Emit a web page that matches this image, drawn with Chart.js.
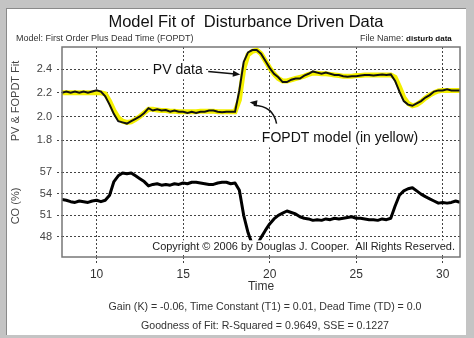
<!DOCTYPE html>
<html>
<head>
<meta charset="utf-8">
<script src="https://cdn.jsdelivr.net/npm/chart.js@4"></script>
<style>
  body { margin: 0; background: #c4c4c4; }
  #wrap { position: relative; width: 474px; height: 338px; overflow: hidden;
          font-family: "Liberation Sans", Arial, sans-serif; color: #222; }
  #panel { position: absolute; left: 6px; top: 8px; width: 459px; height: 326px;
           background: #fff; border-left: 1px solid #8a8a8a; border-top: 1px solid #8a8a8a; }
  canvas { position: absolute; left: 0; top: 0; }
  .t { position: absolute; white-space: nowrap; }
  .c { text-align: center; left: 0; }
</style>
</head>
<body>
<div id="wrap">
  <div id="panel"></div>
  <canvas id="fitChart" width="474" height="338"></canvas>
  <div class="t c" style="width:492px; top:11px; font-size:16.5px; line-height:20px; color:#111;">Model Fit of&nbsp; Disturbance Driven Data</div>
  <div class="t" style="left:16px; top:32px; font-size:9px; line-height:12px; color:#333;">Model: First Order Plus Dead Time (FOPDT)</div>
  <div class="t" style="left:360px; top:32px; font-size:9px; line-height:12px; color:#333;">File Name: <span style="font-size:8px; font-weight:bold; color:#111;">disturb data</span></div>
  <div class="t c" style="width:530px; top:299px; font-size:10.6px; line-height:14px; color:#333;">Gain (K) = -0.06, Time Constant (T1) = 0.01, Dead Time (TD) = 0.0</div>
  <div class="t c" style="width:530px; top:318px; font-size:10.6px; line-height:14px; color:#333;">Goodness of Fit: R-Squared = 0.9649, SSE = 0.1227</div>
</div>
<script>
// sample times
const times = [
  8, 8.25, 8.5, 8.75, 9, 9.25, 9.5, 9.75,
  10, 10.25, 10.5, 10.75, 11, 11.25, 11.5, 11.75,
  12, 12.25, 12.5, 12.75, 13, 13.25, 13.5, 13.75,
  14, 14.25, 14.5, 14.75, 15, 15.25, 15.5, 15.75,
  16, 16.25, 16.5, 16.75, 17, 17.25, 17.5, 17.75,
  18, 18.25, 18.5, 18.75, 19, 19.25, 19.5, 19.75,
  20, 20.25, 20.5, 20.75, 21, 21.25, 21.5, 21.75,
  22, 22.25, 22.5, 22.75, 23, 23.25, 23.5, 23.75,
  24, 24.25, 24.5, 24.75, 25, 25.25, 25.5, 25.75,
  26, 26.25, 26.5, 26.75, 27, 27.25, 27.5, 27.75,
  28, 28.25, 28.5, 28.75, 29, 29.25, 29.5, 29.75,
  30, 30.25, 30.5, 30.75, 31
];

// measured process variable
const pvData = [
  2.20, 2.21, 2.20, 2.21, 2.20, 2.21, 2.20, 2.21,
  2.22, 2.21, 2.17, 2.10, 2.02, 1.96, 1.95, 1.94,
  1.96, 1.98, 2.00, 2.03, 2.07, 2.05, 2.06, 2.05,
  2.055, 2.04, 2.05, 2.04, 2.04, 2.03, 2.04, 2.03,
  2.04, 2.04, 2.05, 2.05, 2.04, 2.035, 2.04, 2.04,
  2.04, 2.22, 2.46, 2.54, 2.56, 2.56, 2.53, 2.47,
  2.41, 2.36, 2.33, 2.29, 2.29, 2.31, 2.32, 2.32,
  2.345, 2.36, 2.38, 2.37, 2.36, 2.37, 2.36, 2.35,
  2.35, 2.34, 2.335, 2.34, 2.34, 2.345, 2.35, 2.35,
  2.345, 2.35, 2.355, 2.35, 2.355, 2.30, 2.21, 2.13,
  2.10, 2.09, 2.11, 2.13, 2.16, 2.18, 2.21, 2.22,
  2.22, 2.23, 2.22, 2.22, 2.22
];

// FOPDT model fit
const modelData = [
  2.20, 2.20, 2.20, 2.20, 2.20, 2.20, 2.20, 2.20,
  2.20, 2.20, 2.19, 2.13, 2.05, 1.99, 1.96, 1.95,
  1.955, 1.975, 2.00, 2.03, 2.06, 2.06, 2.055, 2.05,
  2.05, 2.045, 2.045, 2.04, 2.04, 2.04, 2.04, 2.04,
  2.045, 2.045, 2.045, 2.045, 2.04, 2.04, 2.04, 2.04,
  2.04, 2.14, 2.40, 2.52, 2.55, 2.56, 2.53, 2.47,
  2.41, 2.36, 2.32, 2.30, 2.30, 2.31, 2.32, 2.33,
  2.34, 2.355, 2.365, 2.365, 2.36, 2.36, 2.355, 2.35,
  2.345, 2.34, 2.34, 2.34, 2.345, 2.345, 2.35, 2.35,
  2.35, 2.35, 2.35, 2.35, 2.35, 2.33, 2.25, 2.16,
  2.11, 2.09, 2.10, 2.125, 2.155, 2.18, 2.20, 2.215,
  2.22, 2.22, 2.22, 2.22, 2.22
];

// controller output (%)
const coData = [
  53.2, 53.1, 52.9, 52.8, 53.0, 52.9, 52.8, 53.0,
  53.1, 52.9, 53.1, 53.8, 55.7, 56.5, 56.9, 56.8,
  56.9, 56.5, 56.1, 55.7, 55.1, 55.3, 55.4, 55.2,
  55.3, 55.2, 55.4, 55.3, 55.5, 55.4, 55.6, 55.6,
  55.5, 55.4, 55.3, 55.3, 55.5, 55.6, 55.6, 55.4,
  55.5, 54.5, 51.0, 48.6, 46.9, 46.8, 47.9, 48.9,
  49.8, 50.5, 51.0, 51.3, 51.6, 51.4, 51.2, 50.8,
  50.6, 50.5, 50.3, 50.4, 50.3, 50.5, 50.4, 50.6,
  50.5, 50.6, 50.7, 50.8, 50.6, 50.6, 50.5, 50.4,
  50.4, 50.3, 50.5, 50.4, 50.6, 52.3, 53.8, 54.4,
  54.7, 54.85, 54.4, 53.95, 53.6, 53.3, 53.0, 52.7,
  52.8, 52.7, 52.8, 53.0, 52.8
];

const xTicks = [10, 15, 20, 25, 30];
const pvTicks = [1.8, 2.0, 2.2, 2.4];
const coTicks = [48, 51, 54, 57];

const FONT = '"Liberation Sans", Arial, sans-serif';
const gridColor = '#444';

function pairs(ys) {
    return times.map((t, i) => ({ x: t, y: ys[i] }));
}

function arrowHead(ctx, x, y, angle, size) {
    ctx.beginPath();
    ctx.moveTo(x, y);
    ctx.lineTo(x - size * Math.cos(angle - 0.4), y - size * Math.sin(angle - 0.4));
    ctx.lineTo(x - size * Math.cos(angle + 0.4), y - size * Math.sin(angle + 0.4));
    ctx.closePath();
    ctx.fill();
}

function labelBox(ctx, text, x, y) {
    const w = ctx.measureText(text).width;
    ctx.fillStyle = '#fff';
    ctx.fillRect(x - 3, y - 9, w + 6, 18);
    ctx.fillStyle = '#111';
    ctx.fillText(text, x, y);
}

// frame, callouts and copyright note
const notes = {
    id: 'notes',
    afterDatasetsDraw(chart) {
        const ctx = chart.ctx;
        const a = chart.chartArea;
        const sx = chart.scales.x, sp = chart.scales.pv, sc = chart.scales.co;
        ctx.save();
        ctx.setLineDash([]);
        ctx.textBaseline = 'middle';
        ctx.textAlign = 'left';

        ctx.font = '14px ' + FONT;
        labelBox(ctx, 'PV data', sx.getPixelForValue(13.25), sp.getPixelForValue(2.39));
        labelBox(ctx, 'FOPDT model (in yellow)', sx.getPixelForValue(19.55), sp.getPixelForValue(1.815));

        ctx.strokeStyle = '#111';
        ctx.fillStyle = '#111';
        ctx.lineWidth = 1.5;
        // straight arrow to the PV trace
        let x0 = sx.getPixelForValue(16.45), y0 = sp.getPixelForValue(2.38);
        let x1 = sx.getPixelForValue(18.3), y1 = sp.getPixelForValue(2.355);
        ctx.beginPath();
        ctx.moveTo(x0, y0);
        ctx.lineTo(x1 - 5, y1 - 0.5);
        ctx.stroke();
        arrowHead(ctx, x1, y1, Math.atan2(y1 - y0, x1 - x0), 8);

        // curved arrow to the model trace
        x0 = sx.getPixelForValue(20.4); y0 = sp.getPixelForValue(1.94);
        const cx = sx.getPixelForValue(20.2), cy = sp.getPixelForValue(2.09);
        x1 = sx.getPixelForValue(18.85); y1 = sp.getPixelForValue(2.12);
        ctx.beginPath();
        ctx.moveTo(x0, y0);
        ctx.quadraticCurveTo(cx, cy, x1 + 4, y1 + 3);
        ctx.stroke();
        arrowHead(ctx, x1, y1, Math.atan2(y1 - cy, x1 - cx), 8);

        ctx.font = '11px ' + FONT;
        const cText = 'Copyright \u00A9 2006 by Douglas J. Cooper.  All Rights Reserved.';
        const cw = ctx.measureText(cText).width;
        const cxp = a.right - 5 - cw, cyp = sc.getPixelForValue(46.55);
        ctx.fillStyle = '#fff';
        ctx.fillRect(cxp - 3, cyp - 7, cw + 6, 14);
        ctx.fillStyle = '#222';
        ctx.fillText(cText, cxp, cyp);

        ctx.strokeStyle = '#777';
        ctx.lineWidth = 1.5;
        ctx.strokeRect(a.left, a.top, a.right - a.left, a.bottom - a.top);
        ctx.restore();
    }
};

function yScale(stackWeight, min, max, ticks, title, fmt) {
    return {
        type: 'linear',
        position: 'left',
        stack: 'panels',
        stackWeight: stackWeight,
        min: min,
        max: max,
        afterBuildTicks: s => { s.ticks = ticks.map(v => ({ value: v })); },
        afterFit: s => { s.width = 62; },
        ticks: { callback: fmt, padding: 5, color: '#444', font: { family: FONT, size: 11 } },
        grid: { color: gridColor, tickLength: 5, tickBorderDash: [2, 2] },
        border: { display: false, dash: [2, 2] },
        title: { display: true, text: title, color: '#444', font: { family: FONT, size: 11 }, padding: { top: 9, bottom: 0 } }
    };
}

new Chart(document.getElementById('fitChart'), {
    type: 'line',
    data: {
        datasets: [
            { label: 'PV data', data: pairs(pvData), yAxisID: 'pv', borderColor: '#111', borderWidth: 2, pointRadius: 0, tension: 0 },
            { label: 'FOPDT model', data: pairs(modelData), yAxisID: 'pv', borderColor: '#f4f000', borderWidth: 5, pointRadius: 0, tension: 0 },
            { label: 'CO', data: pairs(coData), yAxisID: 'co', borderColor: '#000', borderWidth: 3, pointRadius: 0, tension: 0, borderJoinStyle: 'round' }
        ]
    },
    options: {
        responsive: false,
        animation: false,
        layout: { padding: { left: 0, right: 14, top: 47, bottom: 44 } },
        plugins: { legend: { display: false }, tooltip: { enabled: false } },
        scales: {
            x: {
                type: 'linear',
                min: 8,
                max: 31,
                afterBuildTicks: s => { s.ticks = xTicks.map(v => ({ value: v })); },
                afterFit: s => { s.height = 37; },
                ticks: { padding: 3, color: '#333', font: { family: FONT, size: 12 } },
                grid: { color: gridColor, tickLength: 7, tickBorderDash: [2, 2] },
                border: { display: false, dash: [2, 2] },
                title: { display: true, text: 'Time', color: '#333', font: { family: FONT, size: 12 }, padding: 0 }
            },
            // the stack is filled from the bottom, so CO is listed first
            co: yScale(102, 45.2, 59.4, coTicks, 'CO (%)', v => String(v)),
            pv: yScale(108, 1.675, 2.586, pvTicks, 'PV & FOPDT Fit', v => v.toFixed(1))
        }
    },
    plugins: [notes]
});
</script>
</body>
</html>
